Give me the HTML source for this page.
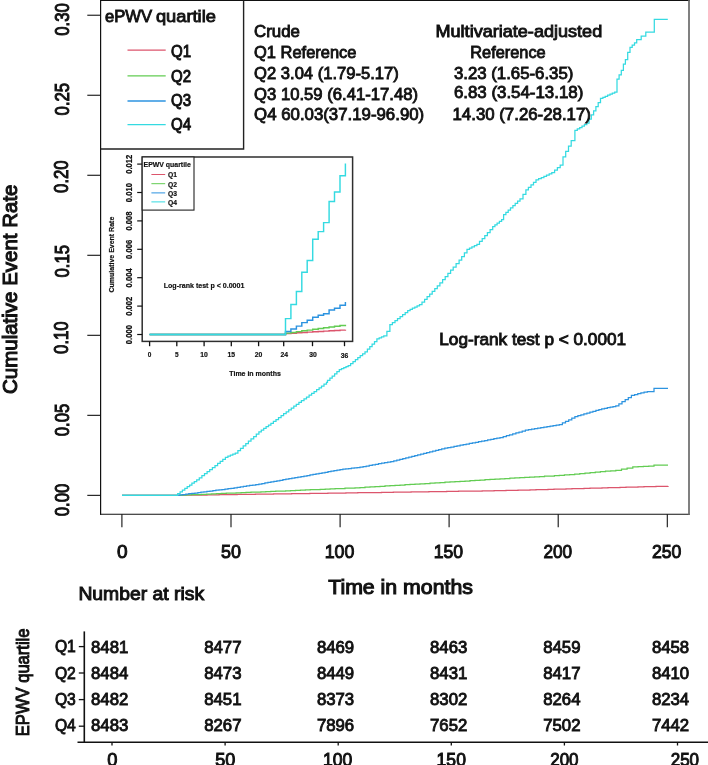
<!DOCTYPE html>
<html><head><meta charset="utf-8"><title>Cumulative Event Rate by ePWV quartile</title>
<style>html,body{margin:0;padding:0;background:#fff}svg{display:block}</style></head>
<body>
<svg width="708" height="765" viewBox="0 0 708 765" font-family="'Liberation Sans', sans-serif" fill="#111">
<rect width="708" height="765" fill="#fff"/>
<path d="M122.0,495.3L176.8,495.3H182.8V495.2H188.9V495.1H194.9V495.0H201.0V495.0H207.0V494.9H213.1V494.8H219.1V494.7H225.2V494.6H231.2V494.5H237.2V494.4H243.3V494.4H249.3V494.3H255.4V494.2H261.4V494.1H267.5V494.0H273.5V493.9H279.6V493.9H285.6V493.8H291.6V493.7H297.7V493.6H303.7V493.5H309.8V493.4H315.8V493.3H321.9V493.3H327.9V493.2H334.0V493.1H340.0V493.0H345.9V492.9H351.9V492.8H357.8V492.7H363.7V492.6H369.6V492.6H375.6V492.5H381.5V492.4H387.4V492.3H393.3V492.2H399.3V492.1H405.2V492.0H411.1V491.9H417.0V491.8H423.0V491.8H428.9V491.7H434.8V491.6H440.7V491.5H446.7V491.4H452.6V491.3H458.5V491.2H464.4V491.1H470.4V491.0H476.3V491.0H482.2V490.9H488.1V490.8H494.1V490.7H500.0V490.6H506.0V490.4H512.0V490.3H518.0V490.1H524.0V490.0H530.0V489.8H536.0V489.6H542.0V489.5H548.0V489.3H554.0V489.2H560.0V489.0H566.0V488.8H572.0V488.7H578.0V488.5H584.0V488.4H590.0V488.2H596.0V488.0H602.0V487.9H608.0V487.7H614.0V487.5H620.0V487.4H626.0V487.2H632.0V487.1H638.0V486.9H644.0V486.7H650.0V486.6H656.0V486.4H662.0V486.3H668.0V486.1" fill="none" stroke="#DC556C" stroke-width="1.25" stroke-linejoin="miter"/>
<path d="M122.0,495.3L176.8,495.3H181.7V495.1H186.7V494.9H191.6V494.7H196.6V494.5H201.5V494.3H206.5V494.1H211.4V493.9H216.4V493.7H221.3V493.4H226.3V493.2H231.2V493.0H236.1V492.8H241.1V492.6H246.0V492.4H251.0V492.2H255.9V492.0H260.9V491.8H265.8V491.6H270.8V491.4H275.7V491.2H280.7V491.0H285.6V490.8H290.5V490.6H295.5V490.4H300.4V490.1H305.4V489.9H310.3V489.7H315.3V489.5H320.2V489.3H325.2V489.1H330.1V488.9H335.1V488.7H340.0V488.5H345.0V488.2H350.0V488.0H355.0V487.8H360.0V487.5H365.0V487.2H370.0V486.9H375.0V486.6H380.0V486.3H385.0V485.9H390.0V485.6H395.0V485.3H400.0V485.0H405.0V484.7H410.0V484.4H415.0V484.1H420.0V483.8H425.0V483.5H430.0V483.1H435.0V482.8H440.0V482.5H445.0V482.2H450.0V481.9H455.0V481.6H460.0V481.3H465.0V481.0H470.0V480.7H475.0V480.4H480.0V480.0H485.0V479.7H490.0V479.4H495.0V479.1H500.0V478.8H504.9V478.5H509.9V478.2H514.8V477.9H519.8V477.7H524.7V477.4H529.6V477.1H534.6V476.8H539.5V476.5H544.5V476.2H549.4V476.0H554.4V475.7H559.3V475.4H564.4V474.9H569.6V474.5H574.7V474.0H579.8V473.5H585.0V473.1H590.1V472.6H595.3V472.2H600.4V471.7H605.5V471.2H610.7V470.8H615.8V470.3H621.5V469.2H627.1V468.0H632.8V466.9H638.1V466.7H643.4V466.4H648.7V466.2H654.0V466.0L654.0,465.2L668.0,465.2" fill="none" stroke="#62CC52" stroke-width="1.25" stroke-linejoin="miter"/>
<path d="M122.0,495.3L176.8,495.3H179.8V494.9H182.8V494.5H185.8V494.1H188.8V493.7H191.9V493.4H194.9V493.0H197.9V492.6H200.9V492.2H203.9V491.8H206.9V491.4H209.9V491.0H212.9V490.6H215.9V490.2H219.0V489.9H222.0V489.5H225.0V489.1H228.0V488.7H231.0V488.3H234.1V487.8H237.2V487.3H240.3V486.9H243.4V486.4H246.5V485.9H249.6V485.4H252.7V485.0H255.8V484.5H258.9V484.0H261.9V483.5H264.9V482.9H267.9V482.4H270.9V481.9H273.9V481.3H276.9V480.8H279.9V480.3H282.9V479.7H285.9V479.2H288.9V478.7H291.9V478.1H294.9V477.6H297.9V477.1H301.0V476.5H304.0V476.0H307.0V475.5H310.0V474.9H313.0V474.4H316.0V473.9H319.0V473.3H322.0V472.8H325.0V472.3H328.0V471.7H331.0V471.2H334.0V470.7H337.0V470.1H340.0V469.6H342.9V469.2H345.7V468.9H348.6V468.5H351.4V468.2H354.3V467.8H357.1V467.5H360.0V467.1H363.1V466.5H366.2V466.0H369.2V465.4H372.3V464.9H375.4V464.3H378.5V463.7H381.6V463.2H384.6V462.6H387.7V462.1H390.8V461.5H393.8V460.8H396.8V460.0H399.8V459.3H402.8V458.5H405.8V457.8H408.8V457.0H411.8V456.3H414.8V455.5H417.7V454.8H420.7V454.0H423.7V453.3H426.7V452.5H429.7V451.8H432.7V451.0H435.7V450.3H438.7V449.5H441.7V448.8H444.8V448.2H447.8V447.6H450.9V447.0H454.0V446.4H457.0V445.8H460.1V445.2H463.2V444.6H466.2V444.0H469.3V443.4H472.4V442.9H475.5V442.3H478.5V441.7H481.6V441.1H484.7V440.5H487.7V439.9H490.8V439.3H493.9V438.7H496.9V438.1H500.0V437.5H503.2V436.6H506.4V435.7H509.5V434.8H512.7V433.9H515.9V432.9H519.0V432.0H522.2V431.1H525.4V430.2H528.5V429.7H531.6V429.2H534.6V428.6H537.7V428.1H540.8V427.6H543.9V427.1H547.0V426.6H550.1V426.1H553.1V425.5H556.2V425.0H559.3V424.5H562.4V422.9H565.5V421.3H568.7V419.8H571.8V418.2H574.9V416.6H577.9V415.7H580.9V414.8H583.9V413.9H586.9V413.1H589.9V412.2H592.9V411.3H595.9V410.4H598.9V409.5H601.7V408.9H604.5V408.3H607.3V407.7H610.2V407.1H613.0V406.5H615.8V405.9H618.9V403.8H622.0V401.7H625.2V399.6H628.3V397.5H631.4V395.4H634.6V394.5H637.8V393.7H640.9V392.9H644.1V392.0H647.4V391.7H650.7V391.5H654.0V391.2L654.0,388.4L668.0,388.4" fill="none" stroke="#2C93E0" stroke-width="1.25" stroke-linejoin="miter"/>
<path d="M122.0,495.3L175.3,495.3H177.7V493.6H180.1V491.9H182.4V490.1H184.8V488.4H187.2V486.7H189.6V485.0H191.9V483.2H194.3V481.5H196.7V479.8H199.3V477.8H201.9V475.7H204.5V473.7H207.1V471.6H209.7V469.6H212.4V467.5H215.0V465.5H217.6V463.4H220.2V461.4H222.8V459.3H225.4V457.3H227.9V456.2H230.4V455.1H232.8V454.1H235.3V453.0H237.9V450.6H240.5V448.3H243.2V445.9H245.8V443.6H248.4V441.2H251.0V438.9H253.7V436.5H256.3V434.2H258.9V431.8H261.3V430.1H263.7V428.4H266.1V426.7H268.5V425.0H270.9V423.3H273.4V421.4H276.0V419.5H278.5V417.6H281.1V415.7H283.6V413.7H286.2V411.8H288.7V409.9H291.3V408.0H293.8V406.1H296.3V404.3H298.9V402.4H301.4V400.6H304.0V398.8H306.5V397.0H309.1V395.1H311.6V393.3H314.1V391.5H316.6V389.7H319.1V387.9H321.5V386.0H324.0V384.2H326.5V382.4H327.5V380.4H329.9V378.2H332.2V376.0H334.6V373.9H336.9V371.7H339.3V369.5H341.5V368.5H343.8V367.6H346.0V366.6H348.2V365.6H350.6V363.6H353.0V361.7H355.4V359.7H357.8V357.7H360.2V355.7H362.6V353.8H365.0V351.8H367.4V349.2H369.8V346.6H372.1V344.1H374.5V341.5H376.9V338.9H379.2V337.9H381.5V336.9H383.8V335.9H386.9V331.4H389.9V324.5H392.4V322.5H395.0V320.5H397.5V318.5H400.1V316.6H402.6V314.6H405.2V312.6H407.7V310.6H410.1V309.4H412.4V308.2H414.8V307.1H417.1V305.9H419.5V304.7H422.0V302.0H424.6V299.3H427.1V296.6H429.7V294.0H432.2V291.3H434.8V288.6H437.3V285.9H439.9V282.8H442.6V279.6H445.2V276.5H447.9V273.4H450.6V270.2H453.2V267.1H456.1V263.6H459.1V260.2H461.7V256.6H464.4V252.9H467.0V249.3H469.5V248.1H471.9V246.9H474.4V245.6H476.9V244.4H479.5V241.4H482.2V238.5H484.8V235.5H487.4V232.5H490.1V229.6H492.7V226.6H494.9V224.9H497.1V223.1H499.4V221.4H501.6V219.7H503.6V214.7H505.9V212.4H508.2V210.1H510.5V207.8H512.9V205.6H515.2V203.4H517.6V201.1H520.0V198.9H523.0V194.4H525.9V189.9H528.4V187.4H531.0V184.9H533.5V182.4H536.0V179.9H538.6V178.7H541.3V177.5H543.9V176.3H546.5V175.1H549.2V173.9H551.8V172.7H554.6V170.2H557.4V167.7H560.2V165.2H563.0V156.9H565.7V151.4H568.5V146.0H571.2V140.5H574.9V130.4H577.3V128.9H579.7V127.5H582.0V126.0H584.4V124.6H586.8V123.1H589.0V119.0H591.3V114.9H593.6V110.8H595.9V106.7H598.2V102.5H600.5V98.4H602.9V97.3H605.2V96.3H607.6V95.2H610.0V94.1H612.3V93.1H614.7V92.0H617.0V87.4L617.0,79.2H619.1V74.8H621.3V70.4H623.4V66.0L623.4,64.2L625.4,64.2L625.4,59.5L627.7,59.5L627.7,52.4L630.0,52.4L630.0,47.3L632.2,47.3L632.2,45.0L634.5,45.0L634.5,42.8L636.7,42.8L636.7,39.6L641.2,39.6L641.2,36.2L645.8,36.2L645.8,32.0L654.3,32.0L654.3,19.4L667.8,19.4" fill="none" stroke="#34DAE1" stroke-width="1.25" stroke-linejoin="miter"/>
<line x1="100.0" y1="0.5" x2="689.8" y2="0.5" stroke="#111" stroke-width="1.1"/>
<line x1="100.6" y1="0" x2="100.6" y2="514.8" stroke="#111" stroke-width="1.2"/>
<line x1="100.0" y1="514.3" x2="689.8" y2="514.3" stroke="#111" stroke-width="1.1"/>
<line x1="689.0" y1="0" x2="689.0" y2="514.8" stroke="#6a6a6a" stroke-width="1.7"/>
<line x1="87.3" y1="495.35" x2="100.6" y2="495.35" stroke="#111" stroke-width="1.1"/>
<text x="69.2" y="516.3" font-size="19.4" textLength="32.6" lengthAdjust="spacingAndGlyphs" transform="rotate(-90 69.2 516.3)" stroke="#111" stroke-width="1.03">0.00</text>
<line x1="87.3" y1="415.33" x2="100.6" y2="415.33" stroke="#111" stroke-width="1.1"/>
<text x="69.2" y="436.3" font-size="19.4" textLength="32.6" lengthAdjust="spacingAndGlyphs" transform="rotate(-90 69.2 436.3)" stroke="#111" stroke-width="1.03">0.05</text>
<line x1="87.3" y1="335.31" x2="100.6" y2="335.31" stroke="#111" stroke-width="1.1"/>
<text x="67.6" y="353.9" font-size="19.4" textLength="32.6" lengthAdjust="spacingAndGlyphs" transform="rotate(-90 67.6 353.9)" stroke="#111" stroke-width="1.03">0.10</text>
<line x1="87.3" y1="255.29" x2="100.6" y2="255.29" stroke="#111" stroke-width="1.1"/>
<text x="69.2" y="277.5" font-size="19.4" textLength="32.6" lengthAdjust="spacingAndGlyphs" transform="rotate(-90 69.2 277.5)" stroke="#111" stroke-width="1.03">0.15</text>
<line x1="87.3" y1="175.27" x2="100.6" y2="175.27" stroke="#111" stroke-width="1.1"/>
<text x="67.6" y="192.9" font-size="19.4" textLength="32.6" lengthAdjust="spacingAndGlyphs" transform="rotate(-90 67.6 192.9)" stroke="#111" stroke-width="1.03">0.20</text>
<line x1="87.3" y1="95.25" x2="100.6" y2="95.25" stroke="#111" stroke-width="1.1"/>
<text x="69.2" y="115.4" font-size="19.4" textLength="32.6" lengthAdjust="spacingAndGlyphs" transform="rotate(-90 69.2 115.4)" stroke="#111" stroke-width="1.03">0.25</text>
<line x1="87.3" y1="15.23" x2="100.6" y2="15.23" stroke="#111" stroke-width="1.1"/>
<text x="69.0" y="35.7" font-size="19.4" textLength="32.6" lengthAdjust="spacingAndGlyphs" transform="rotate(-90 69.0 35.7)" stroke="#111" stroke-width="1.03">0.30</text>
<line x1="121.9" y1="514.3" x2="121.9" y2="527.3" stroke="#111" stroke-width="1.1"/>
<text x="116.9" y="557.6" font-size="19.0" textLength="10.6" lengthAdjust="spacingAndGlyphs" stroke="#111" stroke-width="1.01">0</text>
<line x1="231.0" y1="514.3" x2="231.0" y2="527.3" stroke="#111" stroke-width="1.1"/>
<text x="220.9" y="557.6" font-size="19.0" textLength="20.0" lengthAdjust="spacingAndGlyphs" stroke="#111" stroke-width="1.01">50</text>
<line x1="340.1" y1="514.3" x2="340.1" y2="527.3" stroke="#111" stroke-width="1.1"/>
<text x="324.7" y="557.6" font-size="19.0" textLength="29.6" lengthAdjust="spacingAndGlyphs" stroke="#111" stroke-width="1.01">100</text>
<line x1="449.1" y1="514.3" x2="449.1" y2="527.3" stroke="#111" stroke-width="1.1"/>
<text x="433.7" y="557.6" font-size="19.0" textLength="29.4" lengthAdjust="spacingAndGlyphs" stroke="#111" stroke-width="1.01">150</text>
<line x1="558.2" y1="514.3" x2="558.2" y2="527.3" stroke="#111" stroke-width="1.1"/>
<text x="543.4" y="557.6" font-size="19.0" textLength="28.7" lengthAdjust="spacingAndGlyphs" stroke="#111" stroke-width="1.01">200</text>
<line x1="667.3" y1="514.3" x2="667.3" y2="527.3" stroke="#111" stroke-width="1.1"/>
<text x="651.9" y="557.6" font-size="19.0" textLength="29.5" lengthAdjust="spacingAndGlyphs" stroke="#111" stroke-width="1.01">250</text>
<text x="16.6" y="394.0" font-size="20.6" textLength="209.5" lengthAdjust="spacingAndGlyphs" transform="rotate(-90 16.6 394.0)" stroke="#111" stroke-width="1.09">Cumulative Event Rate</text>
<text x="328.2" y="593.6" font-size="19.8" textLength="144.7" lengthAdjust="spacingAndGlyphs" stroke="#111" stroke-width="1.05">Time in months</text>
<text x="78.4" y="600.2" font-size="18.5" textLength="125.7" lengthAdjust="spacingAndGlyphs" stroke="#111" stroke-width="0.98">Number at risk</text>
<path d="M100.6,149H243.6V0.5" fill="none" stroke="#222" stroke-width="1.4"/>
<text x="105.0" y="22.4" font-size="16.2" textLength="47.2" lengthAdjust="spacingAndGlyphs" stroke="#111" stroke-width="0.86">ePWV</text>
<text x="155.9" y="22.4" font-size="16.2" textLength="60.0" lengthAdjust="spacingAndGlyphs" stroke="#111" stroke-width="0.86">quartile</text>
<line x1="127.5" y1="50.2" x2="165.7" y2="50.2" stroke="#DC556C" stroke-width="1.3"/>
<text x="171.0" y="56.8" font-size="17.3" textLength="20.1" lengthAdjust="spacingAndGlyphs" stroke="#111" stroke-width="1.0">Q1</text>
<line x1="127.5" y1="75.8" x2="165.7" y2="75.8" stroke="#62CC52" stroke-width="1.3"/>
<text x="171.0" y="81.6" font-size="17.3" textLength="20.1" lengthAdjust="spacingAndGlyphs" stroke="#111" stroke-width="1.0">Q2</text>
<line x1="127.5" y1="101" x2="165.7" y2="101" stroke="#2C93E0" stroke-width="1.3"/>
<text x="171.0" y="105.9" font-size="17.3" textLength="20.1" lengthAdjust="spacingAndGlyphs" stroke="#111" stroke-width="1.0">Q3</text>
<line x1="127.5" y1="124.6" x2="165.7" y2="124.6" stroke="#34DAE1" stroke-width="1.3"/>
<text x="171.0" y="130.3" font-size="17.3" textLength="20.1" lengthAdjust="spacingAndGlyphs" stroke="#111" stroke-width="1.0">Q4</text>
<text x="254.1" y="37.4" font-size="15.7" textLength="45.8" lengthAdjust="spacingAndGlyphs" stroke="#111" stroke-width="0.83">Crude</text>
<text x="254.1" y="58.0" font-size="15.7" textLength="102.3" lengthAdjust="spacingAndGlyphs" stroke="#111" stroke-width="0.83">Q1 Reference</text>
<text x="254.1" y="79.2" font-size="15.7" textLength="144.7" lengthAdjust="spacingAndGlyphs" stroke="#111" stroke-width="0.83">Q2 3.04 (1.79-5.17)</text>
<text x="254.1" y="99.5" font-size="15.7" textLength="163.9" lengthAdjust="spacingAndGlyphs" stroke="#111" stroke-width="0.83">Q3 10.59 (6.41-17.48)</text>
<text x="254.1" y="119.6" font-size="15.7" textLength="170.1" lengthAdjust="spacingAndGlyphs" stroke="#111" stroke-width="0.83">Q4 60.03(37.19-96.90)</text>
<text x="435.5" y="37.4" font-size="15.7" textLength="166.7" lengthAdjust="spacingAndGlyphs" stroke="#111" stroke-width="0.83">Multivariate-adjusted</text>
<text x="470.3" y="58.0" font-size="15.7" textLength="75.4" lengthAdjust="spacingAndGlyphs" stroke="#111" stroke-width="0.83">Reference</text>
<text x="453.9" y="78.6" font-size="15.7" textLength="119.5" lengthAdjust="spacingAndGlyphs" stroke="#111" stroke-width="0.83">3.23 (1.65-6.35)</text>
<text x="453.9" y="97.6" font-size="15.7" textLength="129.4" lengthAdjust="spacingAndGlyphs" stroke="#111" stroke-width="0.83">6.83 (3.54-13.18)</text>
<text x="452.5" y="120.2" font-size="15.7" textLength="138.4" lengthAdjust="spacingAndGlyphs" stroke="#111" stroke-width="0.83">14.30 (7.26-28.17)</text>
<text x="439.3" y="344.6" font-size="17.2" textLength="186.8" lengthAdjust="spacingAndGlyphs" stroke="#111" stroke-width="0.91">Log-rank test p &lt; 0.0001</text>
<path d="M149.6,334.5 L285.5,334.5 L285.5,333.5 L290.9,333.5 L290.9,333.2 L296.4,333.2 L296.4,332.8 L301.8,332.8 L301.8,332.5 L307.2,332.5 L307.2,332.1 L312.7,332.1 L312.7,331.8 L318.2,331.8 L318.2,331.4 L323.6,331.4 L323.6,331.1 L329.1,331.1 L329.1,330.8 L334.5,330.8 L334.5,330.4 L340.0,330.4 L340.0,330.1 L345.4,330.1 L345.4,329.7 L345.4,329.7" fill="none" stroke="#DC556C" stroke-width="1.45"/>
<path d="M149.6,334.5 L285.5,334.5 L285.5,333.1 L290.9,333.1 L290.9,332.4 L296.4,332.4 L296.4,331.6 L301.8,331.6 L301.8,330.8 L307.2,330.8 L307.2,330.1 L312.7,330.1 L312.7,329.3 L318.2,329.3 L318.2,328.5 L323.6,328.5 L323.6,327.8 L329.1,327.8 L329.1,327.0 L334.5,327.0 L334.5,326.2 L340.0,326.2 L340.0,325.5 L345.4,325.5 L345.4,324.7 L345.4,324.7" fill="none" stroke="#62CC52" stroke-width="1.45"/>
<path d="M149.6,334.5 L285.5,334.5 L285.5,331.4 L290.9,331.4 L290.9,329.0 L296.4,329.0 L296.4,326.1 L301.8,326.1 L301.8,322.6 L307.2,322.6 L307.2,320.2 L312.7,320.2 L312.7,317.2 L318.2,317.2 L318.2,315.3 L323.6,315.3 L323.6,313.7 L329.1,313.7 L329.1,309.9 L334.5,309.9 L334.5,308.2 L340.0,308.2 L340.0,305.2 L345.4,305.2 L345.4,302.1 L345.4,302.1" fill="none" stroke="#2C93E0" stroke-width="1.45"/>
<path d="M149.6,334.5 L285.5,334.5 L285.5,318.6 L290.9,318.6 L290.9,304.5 L296.4,304.5 L296.4,291.4 L301.8,291.4 L301.8,272.2 L307.2,272.2 L307.2,260.4 L312.7,260.4 L312.7,239.2 L318.2,239.2 L318.2,231.6 L323.6,231.6 L323.6,222.6 L329.1,222.6 L329.1,201.5 L334.5,201.5 L334.5,192.0 L340.0,192.0 L340.0,175.8 L345.4,175.8 L345.4,163.5 L345.4,163.5" fill="none" stroke="#34DAE1" stroke-width="1.45"/>
<rect x="142.2" y="157.0" width="210.40000000000003" height="184.39999999999998" fill="none" stroke="#2e2e2e" stroke-width="1.5"/>
<line x1="137.2" y1="334.5" x2="142.2" y2="334.5" stroke="#111" stroke-width="1.2"/>
<text x="132.1" y="344.2" font-size="8.4" textLength="19.2" lengthAdjust="spacingAndGlyphs" transform="rotate(-90 132.1 344.2)" stroke="#111" stroke-width="0.2" font-weight="bold">0.000</text>
<line x1="137.2" y1="306.1" x2="142.2" y2="306.1" stroke="#111" stroke-width="1.2"/>
<text x="132.1" y="315.8" font-size="8.4" textLength="19.2" lengthAdjust="spacingAndGlyphs" transform="rotate(-90 132.1 315.8)" stroke="#111" stroke-width="0.2" font-weight="bold">0.002</text>
<line x1="137.2" y1="277.7" x2="142.2" y2="277.7" stroke="#111" stroke-width="1.2"/>
<text x="132.1" y="287.4" font-size="8.4" textLength="19.2" lengthAdjust="spacingAndGlyphs" transform="rotate(-90 132.1 287.4)" stroke="#111" stroke-width="0.2" font-weight="bold">0.004</text>
<line x1="137.2" y1="249.3" x2="142.2" y2="249.3" stroke="#111" stroke-width="1.2"/>
<text x="132.1" y="259.0" font-size="8.4" textLength="19.2" lengthAdjust="spacingAndGlyphs" transform="rotate(-90 132.1 259.0)" stroke="#111" stroke-width="0.2" font-weight="bold">0.006</text>
<line x1="137.2" y1="220.9" x2="142.2" y2="220.9" stroke="#111" stroke-width="1.2"/>
<text x="132.1" y="230.6" font-size="8.4" textLength="19.2" lengthAdjust="spacingAndGlyphs" transform="rotate(-90 132.1 230.6)" stroke="#111" stroke-width="0.2" font-weight="bold">0.008</text>
<line x1="137.2" y1="192.5" x2="142.2" y2="192.5" stroke="#111" stroke-width="1.2"/>
<text x="132.1" y="202.2" font-size="8.4" textLength="19.2" lengthAdjust="spacingAndGlyphs" transform="rotate(-90 132.1 202.2)" stroke="#111" stroke-width="0.2" font-weight="bold">0.010</text>
<line x1="137.2" y1="164.1" x2="142.2" y2="164.1" stroke="#111" stroke-width="1.2"/>
<text x="132.1" y="173.8" font-size="8.4" textLength="19.2" lengthAdjust="spacingAndGlyphs" transform="rotate(-90 132.1 173.8)" stroke="#111" stroke-width="0.2" font-weight="bold">0.012</text>
<line x1="149.6" y1="341.4" x2="149.6" y2="346.2" stroke="#111" stroke-width="1.3"/>
<text x="147.8" y="357.4" font-size="7.8" textLength="3.6" lengthAdjust="spacingAndGlyphs" stroke="#111" stroke-width="0.2" font-weight="bold">0</text>
<line x1="176.8" y1="341.4" x2="176.8" y2="346.2" stroke="#111" stroke-width="1.3"/>
<text x="175.0" y="357.4" font-size="7.8" textLength="3.6" lengthAdjust="spacingAndGlyphs" stroke="#111" stroke-width="0.2" font-weight="bold">5</text>
<line x1="204.1" y1="341.4" x2="204.1" y2="346.2" stroke="#111" stroke-width="1.3"/>
<text x="200.3" y="357.4" font-size="7.8" textLength="7.6" lengthAdjust="spacingAndGlyphs" stroke="#111" stroke-width="0.2" font-weight="bold">10</text>
<line x1="231.3" y1="341.4" x2="231.3" y2="346.2" stroke="#111" stroke-width="1.3"/>
<text x="227.5" y="357.4" font-size="7.8" textLength="7.6" lengthAdjust="spacingAndGlyphs" stroke="#111" stroke-width="0.2" font-weight="bold">15</text>
<line x1="258.6" y1="341.4" x2="258.6" y2="346.2" stroke="#111" stroke-width="1.3"/>
<text x="254.8" y="357.4" font-size="7.8" textLength="7.6" lengthAdjust="spacingAndGlyphs" stroke="#111" stroke-width="0.2" font-weight="bold">20</text>
<line x1="283.7" y1="341.4" x2="283.7" y2="346.2" stroke="#111" stroke-width="1.3"/>
<text x="280.5" y="357.4" font-size="7.8" textLength="7.6" lengthAdjust="spacingAndGlyphs" stroke="#111" stroke-width="0.2" font-weight="bold">24</text>
<line x1="312.5" y1="341.4" x2="312.5" y2="346.2" stroke="#111" stroke-width="1.3"/>
<text x="309.3" y="357.4" font-size="7.8" textLength="7.6" lengthAdjust="spacingAndGlyphs" stroke="#111" stroke-width="0.2" font-weight="bold">30</text>
<line x1="344.5" y1="341.4" x2="344.5" y2="346.2" stroke="#111" stroke-width="1.3"/>
<text x="340.7" y="358.0" font-size="7.8" textLength="7.6" lengthAdjust="spacingAndGlyphs" stroke="#111" stroke-width="0.2" font-weight="bold">36</text>
<text x="114.4" y="292.5" font-size="7.6" textLength="75.8" lengthAdjust="spacingAndGlyphs" transform="rotate(-90 114.4 292.5)" stroke="#111" stroke-width="0.2" font-weight="bold">Cumulative Event Rate</text>
<text x="229.3" y="375.5" font-size="8" textLength="51.5" lengthAdjust="spacingAndGlyphs" stroke="#111" stroke-width="0.2" font-weight="bold">Time in months</text>
<text x="163.7" y="288.1" font-size="7.6" textLength="80.7" lengthAdjust="spacingAndGlyphs" stroke="#111" stroke-width="0.2" font-weight="bold">Log-rank test p &lt; 0.0001</text>
<rect x="142.2" y="157.0" width="51.80000000000001" height="53.099999999999994" fill="#fff" stroke="#222" stroke-width="1.1"/>
<text x="143.5" y="166.6" font-size="7.6" textLength="47.4" lengthAdjust="spacingAndGlyphs" stroke="#111" stroke-width="0.2" font-weight="bold">EPWV quartile</text>
<line x1="151.4" y1="174.5" x2="165.2" y2="174.5" stroke="#DC556C" stroke-width="1"/>
<text x="168.0" y="177.3" font-size="7.6" textLength="9.0" lengthAdjust="spacingAndGlyphs" stroke="#111" stroke-width="0.2" font-weight="bold">Q1</text>
<line x1="151.4" y1="183.7" x2="165.2" y2="183.7" stroke="#62CC52" stroke-width="1"/>
<text x="168.0" y="186.5" font-size="7.6" textLength="9.0" lengthAdjust="spacingAndGlyphs" stroke="#111" stroke-width="0.2" font-weight="bold">Q2</text>
<line x1="151.4" y1="192.9" x2="165.2" y2="192.9" stroke="#2C93E0" stroke-width="1"/>
<text x="168.0" y="195.7" font-size="7.6" textLength="9.0" lengthAdjust="spacingAndGlyphs" stroke="#111" stroke-width="0.2" font-weight="bold">Q3</text>
<line x1="151.4" y1="201.9" x2="165.2" y2="201.9" stroke="#34DAE1" stroke-width="1"/>
<text x="168.0" y="204.7" font-size="7.6" textLength="9.0" lengthAdjust="spacingAndGlyphs" stroke="#111" stroke-width="0.2" font-weight="bold">Q4</text>
<line x1="84.3" y1="631.4" x2="84.3" y2="742.3" stroke="#111" stroke-width="1.6"/>
<line x1="77.5" y1="742.3" x2="708" y2="742.3" stroke="#111" stroke-width="1.6"/>
<line x1="78.8" y1="646.6" x2="84.3" y2="646.6" stroke="#111" stroke-width="1.3"/>
<text x="54.9" y="652.2" font-size="16.8" textLength="20.9" lengthAdjust="spacingAndGlyphs" stroke="#111" stroke-width="0.89">Q1</text>
<text x="91.0" y="652.5" font-size="16.6" textLength="37.3" lengthAdjust="spacingAndGlyphs" stroke="#111" stroke-width="0.88">8481</text>
<text x="204.2" y="652.5" font-size="16.6" textLength="37.3" lengthAdjust="spacingAndGlyphs" stroke="#111" stroke-width="0.88">8477</text>
<text x="316.9" y="652.5" font-size="16.6" textLength="37.3" lengthAdjust="spacingAndGlyphs" stroke="#111" stroke-width="0.88">8469</text>
<text x="430.0" y="652.5" font-size="16.6" textLength="37.3" lengthAdjust="spacingAndGlyphs" stroke="#111" stroke-width="0.88">8463</text>
<text x="543.2" y="652.5" font-size="16.6" textLength="37.3" lengthAdjust="spacingAndGlyphs" stroke="#111" stroke-width="0.88">8459</text>
<text x="651.9" y="652.5" font-size="16.6" textLength="37.3" lengthAdjust="spacingAndGlyphs" stroke="#111" stroke-width="0.88">8458</text>
<line x1="78.8" y1="673" x2="84.3" y2="673" stroke="#111" stroke-width="1.3"/>
<text x="54.9" y="678.5" font-size="16.8" textLength="20.9" lengthAdjust="spacingAndGlyphs" stroke="#111" stroke-width="0.89">Q2</text>
<text x="91.0" y="678.8" font-size="16.6" textLength="37.3" lengthAdjust="spacingAndGlyphs" stroke="#111" stroke-width="0.88">8484</text>
<text x="204.2" y="678.8" font-size="16.6" textLength="37.3" lengthAdjust="spacingAndGlyphs" stroke="#111" stroke-width="0.88">8473</text>
<text x="316.9" y="678.8" font-size="16.6" textLength="37.3" lengthAdjust="spacingAndGlyphs" stroke="#111" stroke-width="0.88">8449</text>
<text x="430.0" y="678.8" font-size="16.6" textLength="37.3" lengthAdjust="spacingAndGlyphs" stroke="#111" stroke-width="0.88">8431</text>
<text x="543.2" y="678.8" font-size="16.6" textLength="37.3" lengthAdjust="spacingAndGlyphs" stroke="#111" stroke-width="0.88">8417</text>
<text x="651.9" y="678.8" font-size="16.6" textLength="37.3" lengthAdjust="spacingAndGlyphs" stroke="#111" stroke-width="0.88">8410</text>
<line x1="78.8" y1="699.6" x2="84.3" y2="699.6" stroke="#111" stroke-width="1.3"/>
<text x="54.9" y="704.8" font-size="16.8" textLength="20.9" lengthAdjust="spacingAndGlyphs" stroke="#111" stroke-width="0.89">Q3</text>
<text x="91.0" y="705.1" font-size="16.6" textLength="37.3" lengthAdjust="spacingAndGlyphs" stroke="#111" stroke-width="0.88">8482</text>
<text x="204.2" y="705.1" font-size="16.6" textLength="37.3" lengthAdjust="spacingAndGlyphs" stroke="#111" stroke-width="0.88">8451</text>
<text x="316.9" y="705.1" font-size="16.6" textLength="37.3" lengthAdjust="spacingAndGlyphs" stroke="#111" stroke-width="0.88">8373</text>
<text x="430.0" y="705.1" font-size="16.6" textLength="37.3" lengthAdjust="spacingAndGlyphs" stroke="#111" stroke-width="0.88">8302</text>
<text x="543.2" y="705.1" font-size="16.6" textLength="37.3" lengthAdjust="spacingAndGlyphs" stroke="#111" stroke-width="0.88">8264</text>
<text x="651.9" y="705.1" font-size="16.6" textLength="37.3" lengthAdjust="spacingAndGlyphs" stroke="#111" stroke-width="0.88">8234</text>
<line x1="78.8" y1="726.2" x2="84.3" y2="726.2" stroke="#111" stroke-width="1.3"/>
<text x="54.9" y="731.1" font-size="16.8" textLength="20.9" lengthAdjust="spacingAndGlyphs" stroke="#111" stroke-width="0.89">Q4</text>
<text x="91.0" y="731.4" font-size="16.6" textLength="37.3" lengthAdjust="spacingAndGlyphs" stroke="#111" stroke-width="0.88">8483</text>
<text x="204.2" y="731.4" font-size="16.6" textLength="37.3" lengthAdjust="spacingAndGlyphs" stroke="#111" stroke-width="0.88">8267</text>
<text x="316.9" y="731.4" font-size="16.6" textLength="37.3" lengthAdjust="spacingAndGlyphs" stroke="#111" stroke-width="0.88">7896</text>
<text x="430.0" y="731.4" font-size="16.6" textLength="37.3" lengthAdjust="spacingAndGlyphs" stroke="#111" stroke-width="0.88">7652</text>
<text x="543.2" y="731.4" font-size="16.6" textLength="37.3" lengthAdjust="spacingAndGlyphs" stroke="#111" stroke-width="0.88">7502</text>
<text x="651.9" y="731.4" font-size="16.6" textLength="37.3" lengthAdjust="spacingAndGlyphs" stroke="#111" stroke-width="0.88">7442</text>
<line x1="112.0" y1="742.3" x2="112.0" y2="745.5" stroke="#111" stroke-width="1.3"/>
<text x="107.2" y="765.6" font-size="19.0" textLength="10.2" lengthAdjust="spacingAndGlyphs" stroke="#111" stroke-width="1.01">0</text>
<line x1="225.1" y1="742.3" x2="225.1" y2="745.5" stroke="#111" stroke-width="1.3"/>
<text x="215.3" y="765.6" font-size="19.0" textLength="20.1" lengthAdjust="spacingAndGlyphs" stroke="#111" stroke-width="1.01">50</text>
<line x1="338.2" y1="742.3" x2="338.2" y2="745.5" stroke="#111" stroke-width="1.3"/>
<text x="322.9" y="765.6" font-size="19.0" textLength="29.3" lengthAdjust="spacingAndGlyphs" stroke="#111" stroke-width="1.01">100</text>
<line x1="451.3" y1="742.3" x2="451.3" y2="745.5" stroke="#111" stroke-width="1.3"/>
<text x="436.6" y="765.6" font-size="19.0" textLength="29.3" lengthAdjust="spacingAndGlyphs" stroke="#111" stroke-width="1.01">150</text>
<line x1="564.4" y1="742.3" x2="564.4" y2="745.5" stroke="#111" stroke-width="1.3"/>
<text x="550.2" y="765.6" font-size="19.0" textLength="28.4" lengthAdjust="spacingAndGlyphs" stroke="#111" stroke-width="1.01">200</text>
<line x1="677.5" y1="742.3" x2="677.5" y2="745.5" stroke="#111" stroke-width="1.3"/>
<text x="670.7" y="765.6" font-size="19.0" textLength="28.4" lengthAdjust="spacingAndGlyphs" stroke="#111" stroke-width="1.01">250</text>
<text x="29.3" y="736.2" font-size="18.5" textLength="107.7" lengthAdjust="spacingAndGlyphs" transform="rotate(-90 29.3 736.2)" stroke="#111" stroke-width="0.98">EPWV quartile</text>
</svg>
</body></html>
